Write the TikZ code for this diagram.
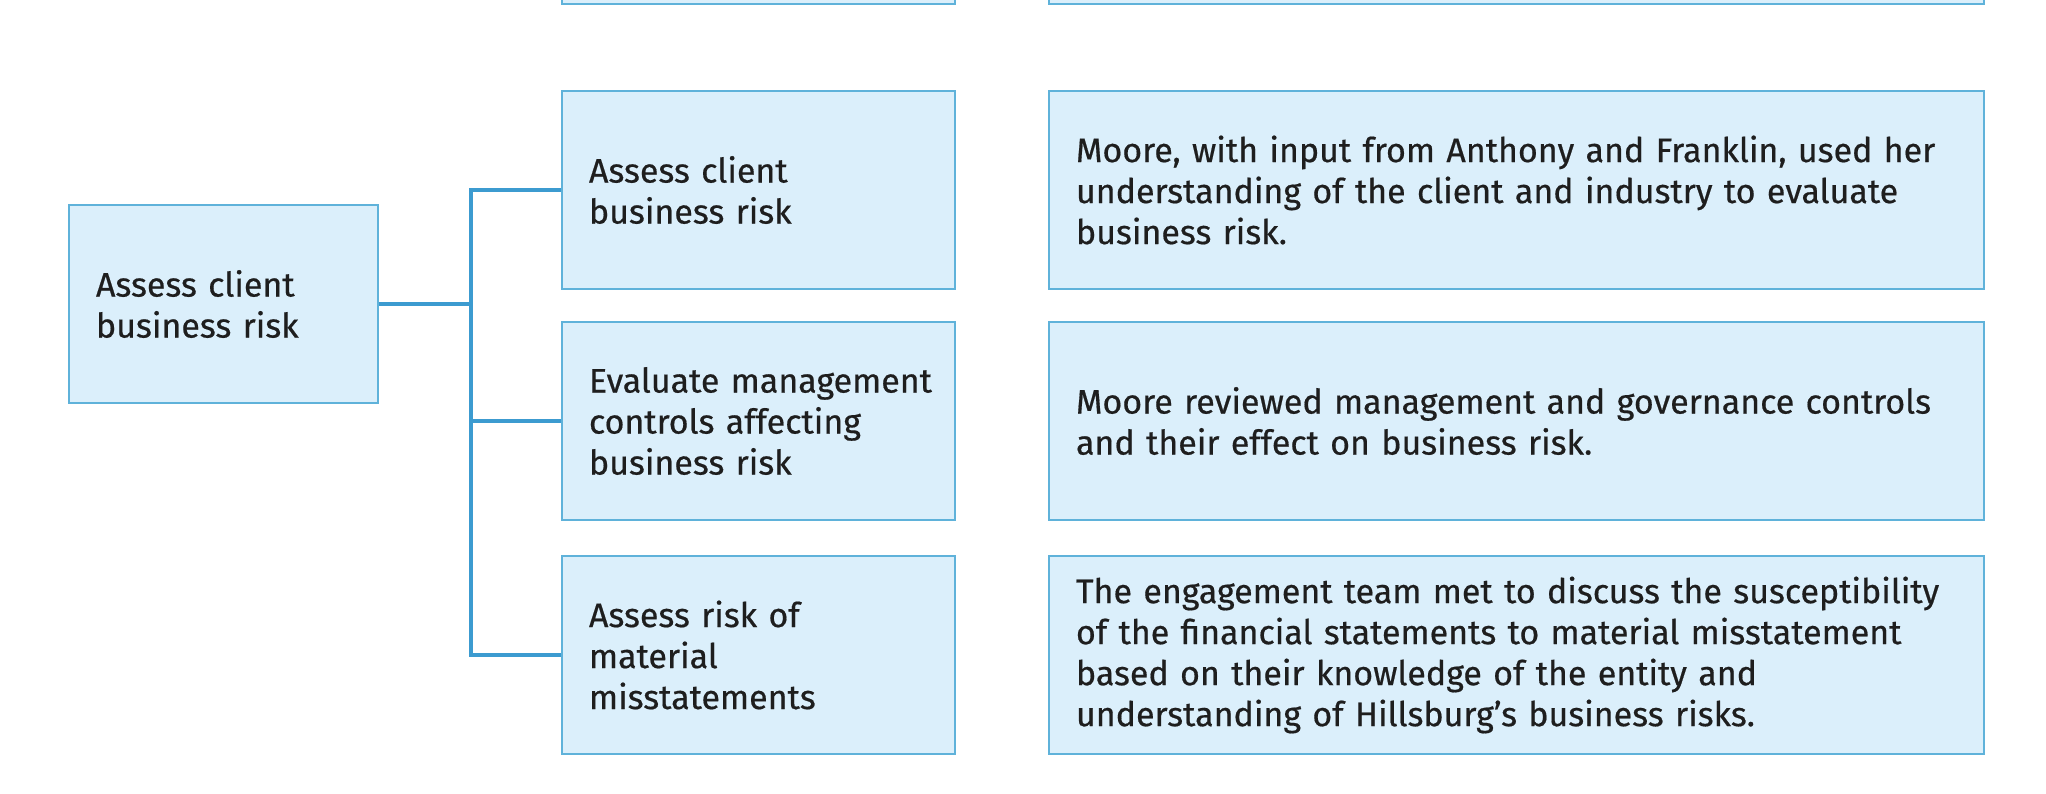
\documentclass[tikz,border=0pt]{standalone}
\usepackage{fontspec}
\setmainfont{Fira Sans}[FakeBold=0.5]
\definecolor{boxfill}{RGB}{219,239,251}
\definecolor{boxline}{RGB}{95,178,218}
\definecolor{linkblue}{RGB}{60,155,208}
\definecolor{textgray}{RGB}{30,30,30}

\begin{document}
\begin{tikzpicture}[x=1pt, y=-1pt,
        riskbox/.style={draw=boxline, fill=boxfill, rectangle, line width=2.5pt, inner xsep=27pt, inner ysep=0pt,
            minimum height=198pt, text width=#1, align=left, text=textgray, font=\fontsize{34}{41}\selectfont},
        link/.style={draw=linkblue, line width=3.5pt}]
        % Fix the page to the size of the reference
        \useasboundingbox (0,0) rectangle (2046,793);

        % Boxes of the row above, cut off by the page
        \node[riskbox=339pt] (prevstep) at (758.5,-95) {};
        \node[riskbox=881pt] (prevnote) at (1516.5,-95) {};

        % Main step
        \node[riskbox=255pt] (client) at (223.5,304) {Assess client\\business risk};

        % Sub steps
        \node[riskbox=339pt] (assess) at (758.5,190) {Assess client\\business risk};
        \node[riskbox=339pt] (evaluate) at (758.5,421) {\mbox{Evaluate management}\\controls affecting\\business risk};
        \node[riskbox=339pt] (material) at (758.5,655) {Assess risk of\\material\\misstatements};

        % What was done
        \node[riskbox=881pt] (assessnote) at (1516.5,190) {Moore, with input from Anthony and Franklin, used her\\understanding of the client and industry to evaluate\\business risk.};
        \node[riskbox=881pt] (evaluatenote) at (1516.5,421) {Moore reviewed management and governance controls\\and their effect on business risk.};
        \node[riskbox=881pt] (materialnote) at (1516.5,655) {The engagement team met to discuss the susceptibility\\of the financial statements to material misstatement\\based on their knowledge of the entity and\\understanding of Hillsburg's business risks.};

        % Draw the bracket from the main step to the sub steps
        \coordinate (fork) at (471,304);
        \draw[link] (client.east) -- (fork); % Stem
        \draw[link] (assess.west) -| (fork) |- (material.west); % Trunk
        \draw[link] (fork |- evaluate.west) -- (evaluate.west); % Middle branch
    \end{tikzpicture}
\end{document}
